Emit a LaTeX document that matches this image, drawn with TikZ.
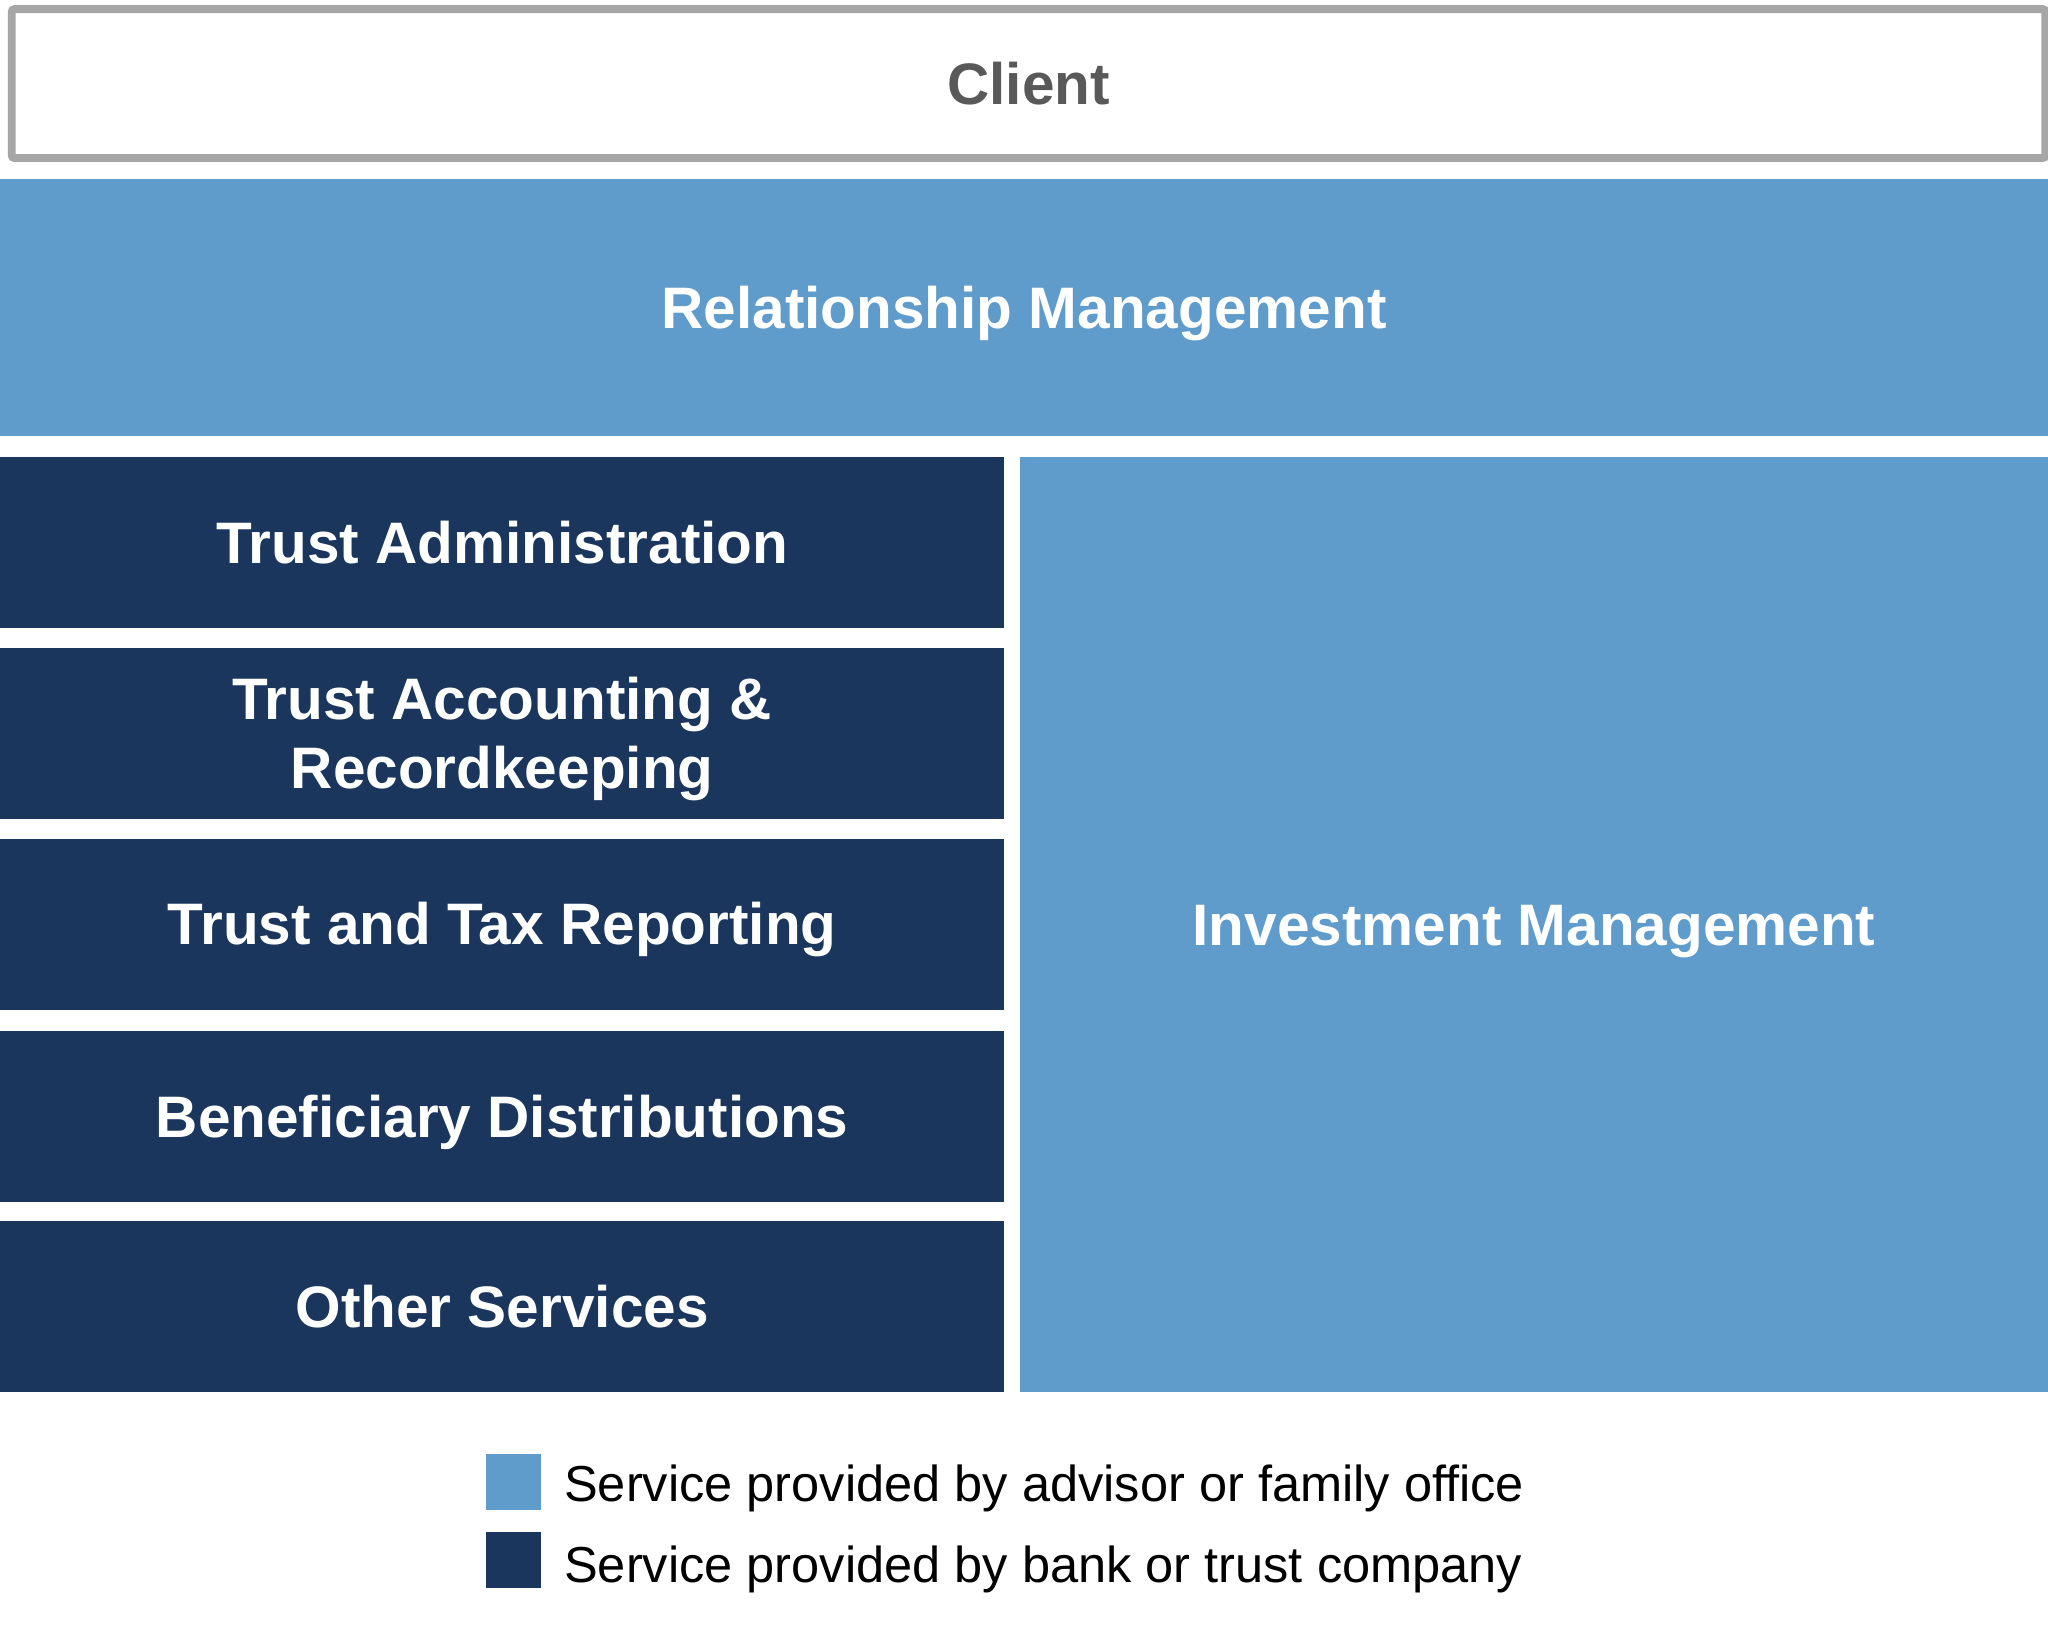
\documentclass[tikz,border=0pt]{standalone}
\usepackage{fontspec}
\setmainfont{Liberation Sans}
\definecolor{lightblue}{HTML}{5F9CCB}
\definecolor{navy}{HTML}{1B365D}
\definecolor{clientgray}{HTML}{A6A6A6}
\definecolor{clienttext}{HTML}{595959}
\begin{document}
\begin{tikzpicture}[x=1pt,y=-1pt,
  cell/.style={rectangle, inner sep=0pt, outer sep=0pt, anchor=north west,
    text=white, font=\fontsize{44.8}{53}\selectfont\bfseries, align=center,
    text height=32pt, text depth=0pt},
  advisor/.style={cell, fill=lightblue},
  bank/.style={cell, fill=navy},
  legsq/.style={rectangle, inner sep=0pt, outer sep=0pt, anchor=north west,
    minimum width=42pt, minimum height=43pt},
  legtext/.style={inner sep=0pt, outer sep=0pt, anchor=base west,
    font=\fontsize{38.7}{46}\selectfont, text=black}
]
\useasboundingbox (0,0) rectangle (1568,1245.7);
% Client
\node[rectangle, draw=clientgray, line width=6pt, fill=white, rounded corners=2pt,
  inner sep=0pt, anchor=north west, minimum width=1557pt, minimum height=114pt,
  text=clienttext, font=\fontsize{44.8}{53}\selectfont\bfseries,
  text height=32pt, text depth=0pt] (client) at (6,4) {Client};
% Relationship management
\node[advisor, minimum width=1568pt, minimum height=197pt] (rm) at (0,137) {Relationship Management};
% Left column
\node[bank, minimum width=769pt, minimum height=131pt] (ta) at (0,350) {Trust Administration};
\node[bank, minimum width=769pt, minimum height=131pt, text height=85pt] (tar) at (0,496) {Trust Accounting \&\\Recordkeeping};
\node[bank, minimum width=769pt, minimum height=131pt] (ttr) at (0,642) {Trust and Tax Reporting};
\node[bank, minimum width=769pt, minimum height=131pt] (bd) at (0,789) {Beneficiary Distributions};
\node[bank, minimum width=769pt, minimum height=131pt] (os) at (0,935) {Other Services};
% Investment management
\node[advisor, minimum width=787pt, minimum height=716pt] (im) at (781,350) {Investment Management};
% Legend
\node[legsq, fill=lightblue] (lsq1) at (372,1113) {};
\node[legsq, fill=navy] (lsq2) at (372,1173) {};
\node[legtext] (lt1) at (432,1149.5) {Service provided by advisor or family office};
\node[legtext] (lt2) at (432,1211.5) {Service provided by bank or trust company};
\end{tikzpicture}
\end{document}
